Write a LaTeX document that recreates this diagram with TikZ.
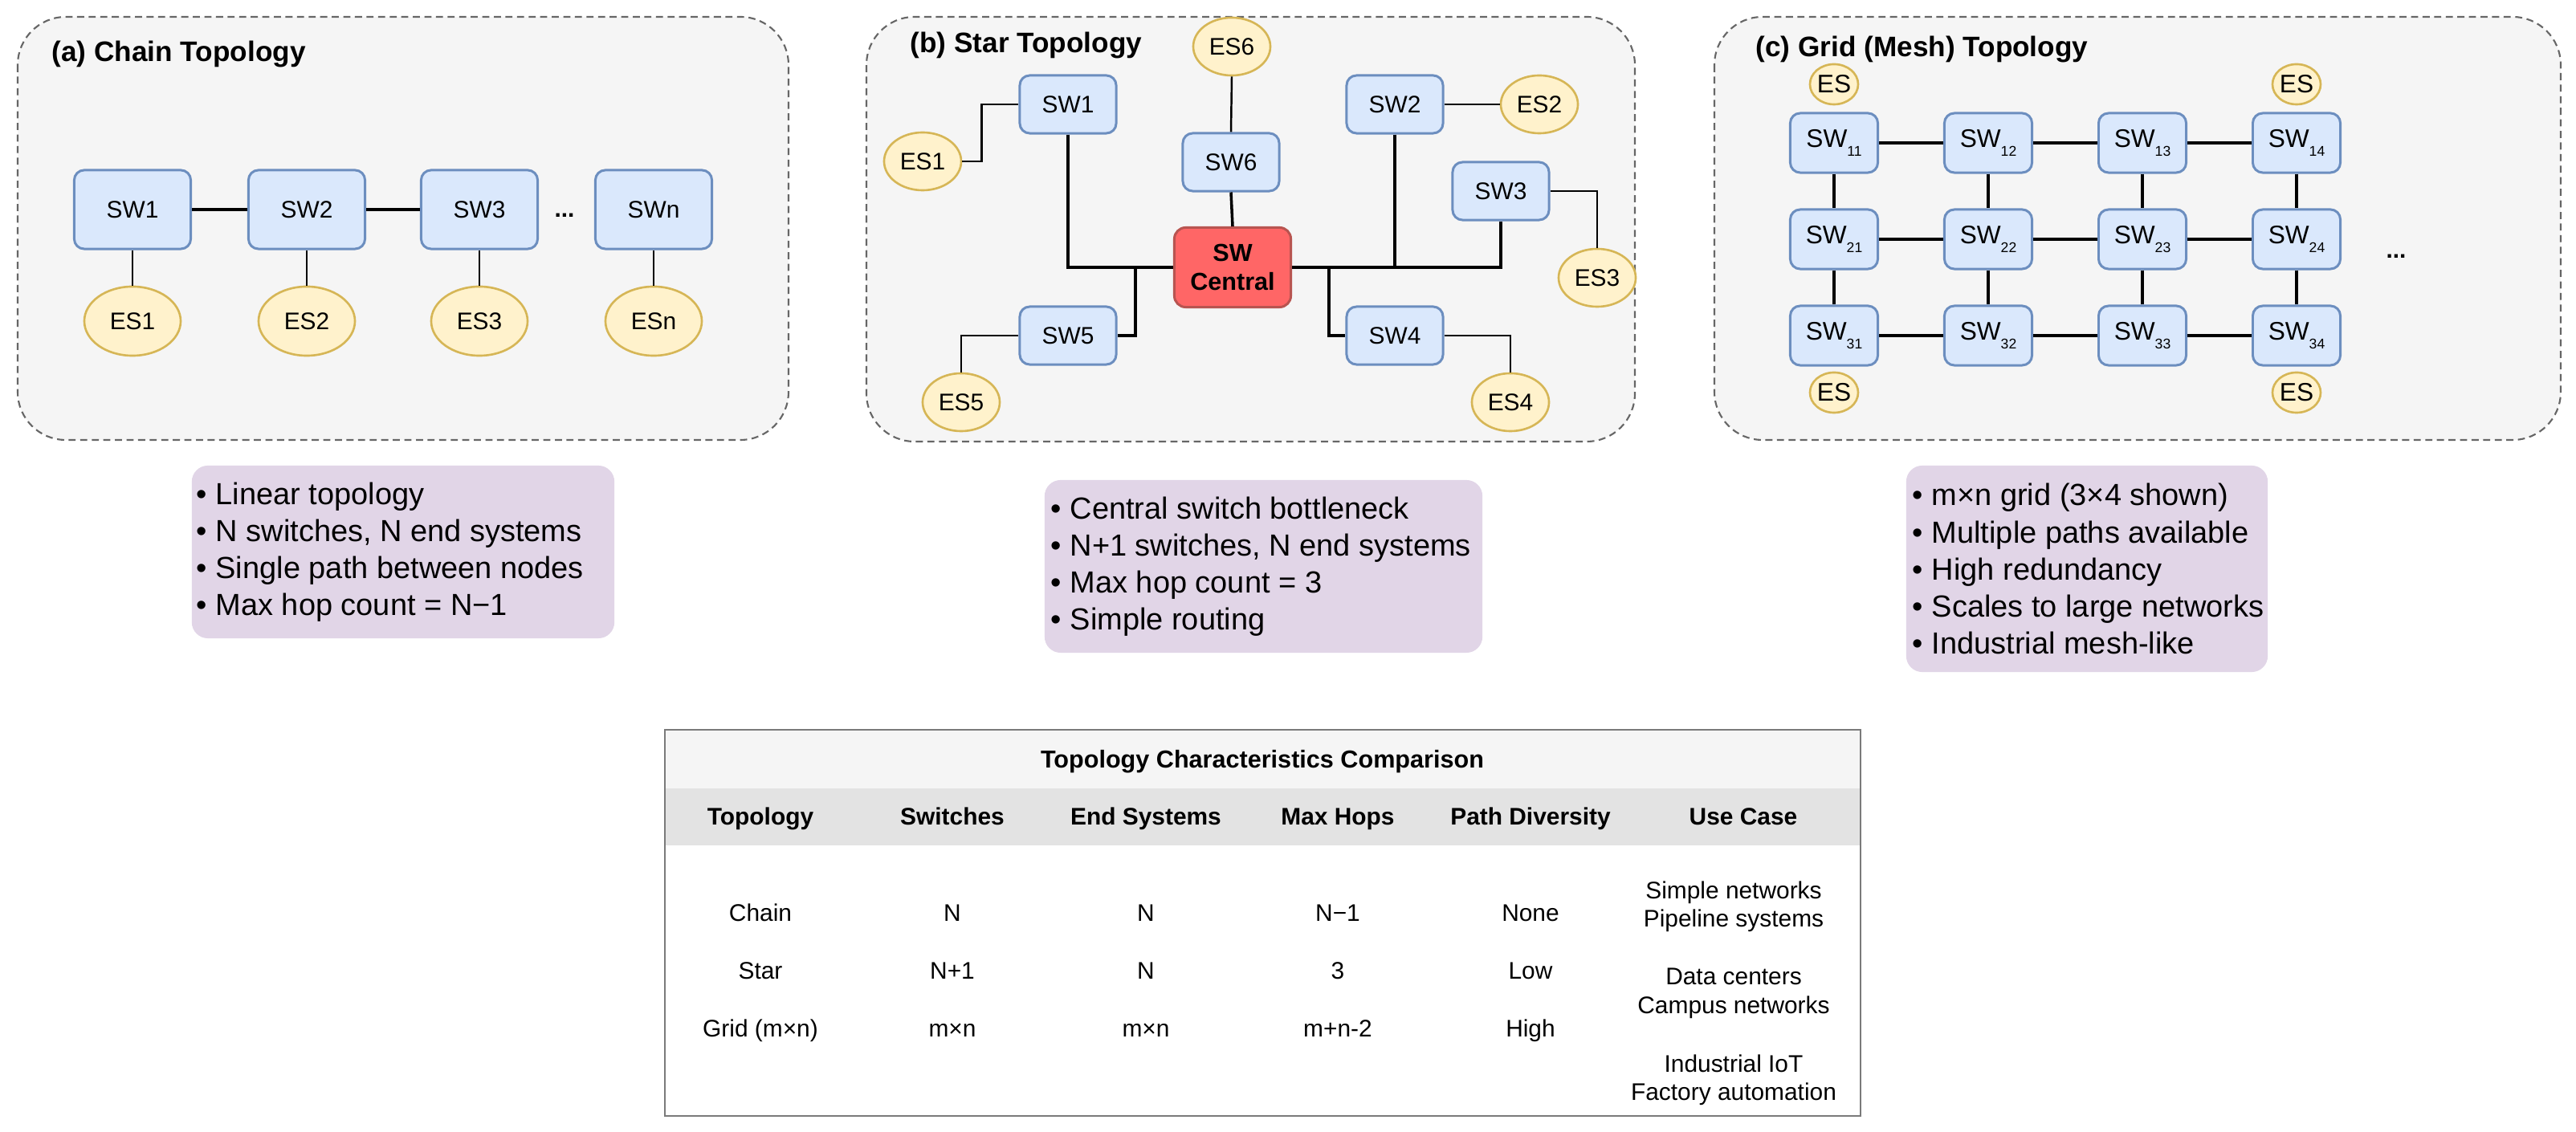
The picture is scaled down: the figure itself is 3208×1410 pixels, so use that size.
\documentclass[tikz,border=0pt]{standalone}
\usepackage{fontspec}
\setmainfont{Liberation Sans}
\usetikzlibrary{shapes.geometric}
\definecolor{panelfill}{HTML}{F5F5F5}
\definecolor{paneldraw}{HTML}{666666}
\definecolor{swfill}{HTML}{DAE8FC}
\definecolor{swdraw}{HTML}{6C8EBF}
\definecolor{esfill}{HTML}{FFF2CC}
\definecolor{esdraw}{HTML}{D6B656}
\definecolor{cfill}{HTML}{FF6666}
\definecolor{cdraw}{HTML}{B85450}
\definecolor{notefill}{HTML}{E1D5E7}
\definecolor{thead}{HTML}{E3E3E3}
\definecolor{ttitle}{HTML}{F5F5F5}
\definecolor{tborder}{HTML}{7A7A7A}
\newcommand{\fsz}[2]{\fontsize{#1}{#2}\selectfont}
\newcommand{\gsw}[1]{SW\raisebox{-3pt}{\fsz{5}{6}#1}}
\tikzset{
  panel/.style={draw=paneldraw, fill=panelfill, line width=0.6pt, dash pattern=on 2.5pt off 1.6pt, rounded corners=0.6cm},
  ptitle/.style={anchor=base west, inner sep=0pt, font=\fsz{10}{12}\bfseries},
  sw/.style={draw=swdraw, fill=swfill, line width=0.85pt, rounded corners=3.5pt, rectangle, inner sep=0pt, font=\fsz{8.5}{10}},
  es/.style={draw=esdraw, fill=esfill, line width=0.75pt, ellipse, inner sep=0pt, font=\fsz{8.5}{10}},
  central/.style={draw=cdraw, fill=cfill, line width=0.85pt, rounded corners=4pt, rectangle, inner sep=0pt, align=center, font=\fsz{8.7}{10.5}\bfseries, minimum width=1.45cm, minimum height=0.99cm},
  thickln/.style={line width=1pt, black},
  thinln/.style={line width=0.55pt, black},
  medln/.style={line width=0.7pt, black},
  notebox/.style={fill=notefill, rounded corners=0.2cm, rectangle, inner sep=0pt},
  notetext/.style={anchor=west, align=left, inner sep=0pt, font=\fsz{10.8}{13.1}},
  thdr/.style={anchor=base, inner sep=0pt, font=\fsz{8.5}{10}\bfseries},
  tcell/.style={anchor=base, inner sep=0pt, font=\fsz{8.5}{10}},
}
\begin{document}
\begin{tikzpicture}[x=0.01cm, y=-0.01cm]
\useasboundingbox (0,0) rectangle (3208,1410);

% ---------------- panels ----------------
\draw[panel] (22,21) rectangle (982,548);
\draw[panel] (1079,21) rectangle (2036,550);
\draw[panel] (2135,21) rectangle (3189,548);
\node[ptitle] (ta) at (64,77) {(a) Chain Topology};
\node[ptitle] (tb) at (1133,66) {(b) Star Topology};
\node[ptitle] (tc) at (2186,71) {(c) Grid (Mesh) Topology};

% ---------------- (a) chain ----------------
\tikzset{swa/.style={sw, minimum width=1.45cm, minimum height=0.98cm},
         esa/.style={es, minimum width=1.2cm, minimum height=0.86cm}}
\node[swa] (a1) at (165,261) {SW1};
\node[swa] (a2) at (382,261) {SW2};
\node[swa] (a3) at (597,261) {SW3};
\node[swa] (an) at (814,261) {SWn};
\node[anchor=base, inner sep=0pt, font=\fsz{8.5}{10}\bfseries] (adots) at (703,271) {...};
\node[esa] (ae1) at (165,400) {ES1};
\node[esa] (ae2) at (382,400) {ES2};
\node[esa] (ae3) at (597,400) {ES3};
\node[esa] (aen) at (814,400) {ESn};
\draw[thickln] (a1) -- (a2);
\draw[thickln] (a2) -- (a3);
\draw[thinln] (a1) -- (ae1);
\draw[thinln] (a2) -- (ae2);
\draw[thinln] (a3) -- (ae3);
\draw[thinln] (an) -- (aen);

% ---------------- (b) star ----------------
\tikzset{swb/.style={sw, minimum width=1.2cm, minimum height=0.72cm},
         esb/.style={es, minimum width=0.96cm, minimum height=0.72cm}}
\node[central] (c) at (1535,333) {SW\\Central};
\node[swb] (b1) at (1330,130) {SW1};
\node[swb] (b6) at (1533,202) {SW6};
\node[swb] (b2) at (1737,130) {SW2};
\node[swb] (b3) at (1869,238) {SW3};
\node[swb] (b5) at (1330,418) {SW5};
\node[swb] (b4) at (1737,418) {SW4};
\node[esb] (be6) at (1534,58) {ES6};
\node[esb] (be1) at (1149,201) {ES1};
\node[esb] (be2) at (1917,130) {ES2};
\node[esb] (be3) at (1989,346) {ES3};
\node[esb] (be5) at (1197,501) {ES5};
\node[esb] (be4) at (1881,501) {ES4};
\coordinate (bl) at (1414,333);
\coordinate (br) at (1655,333);
\draw[thickln] (b1.south) |- (c.west);
\draw[thickln] (bl) |- (b5.east);
\draw[thickln] (b6.south) -- (c.north);
\draw[thickln] (c.east) -| (b3.south);
\draw[thickln] (b2.south) -- (b2.south |- c.east);
\draw[thickln] (br) |- (b4.west);
\draw[medln] (be6.south) -- (b6.north);
\draw[medln] (be1.east) -- ++(24,0) |- (b1.west);
\draw[medln] (b2.east) -- (be2.west);
\draw[medln] (b3.east) -| (be3.north);
\draw[medln] (b4.east) -| (be4.north);
\draw[medln] (b5.west) -| (be5.north);

% ---------------- (c) grid ----------------
\tikzset{swc/.style={sw, minimum width=1.09cm, minimum height=0.74cm, font=\fsz{9}{10}},
         esc/.style={es, minimum width=0.6cm, minimum height=0.5cm, font=\fsz{9}{10}}}
\node[swc] (g11) at (2284,178) {\gsw{11}};
\node[swc] (g12) at (2476,178) {\gsw{12}};
\node[swc] (g13) at (2668,178) {\gsw{13}};
\node[swc] (g14) at (2860,178) {\gsw{14}};
\node[swc] (g21) at (2284,298) {\gsw{21}};
\node[swc] (g22) at (2476,298) {\gsw{22}};
\node[swc] (g23) at (2668,298) {\gsw{23}};
\node[swc] (g24) at (2860,298) {\gsw{24}};
\node[swc] (g31) at (2284,418) {\gsw{31}};
\node[swc] (g32) at (2476,418) {\gsw{32}};
\node[swc] (g33) at (2668,418) {\gsw{33}};
\node[swc] (g34) at (2860,418) {\gsw{34}};
\node[esc] (ge1) at (2284,105) {ES};
\node[esc] (ge2) at (2860,105) {ES};
\node[esc] (ge3) at (2284,489) {ES};
\node[esc] (ge4) at (2860,489) {ES};
\node[anchor=base, inner sep=0pt, font=\fsz{8.5}{10}\bfseries] (gdots) at (2984,322) {...};
\foreach \r in {1,2,3}{
  \draw[thickln] (g\r1) -- (g\r2);
  \draw[thickln] (g\r2) -- (g\r3);
  \draw[thickln] (g\r3) -- (g\r4);
}
\foreach \c in {1,2,3,4}{
  \draw[thickln] (g1\c) -- (g2\c);
  \draw[thickln] (g2\c) -- (g3\c);
}

% ---------------- notes ----------------
\node[notebox, minimum width=5.26cm, minimum height=2.15cm] (na) at (502,687.5) {};
\node[notetext] (nta) at ([xshift=0.06cm]na.west) {• Linear topology\\• N switches, N end systems\\• Single path between nodes\\• Max hop count = N−1};
\node[notebox, minimum width=5.45cm, minimum height=2.15cm] (nb) at (1573.5,705.5) {};
\node[notetext] (ntb) at ([xshift=0.08cm]nb.west) {• Central switch bottleneck\\• N+1 switches, N end systems\\• Max hop count = 3\\• Simple routing};
\node[notebox, minimum width=4.5cm, minimum height=2.57cm] (nc) at (2599,708.5) {};
\node[notetext] (ntc) at ([xshift=0.08cm]nc.west) {• m×n grid (3×4 shown)\\• Multiple paths available\\• High redundancy\\• Scales to large networks\\• Industrial mesh-like};

% ---------------- table ----------------
\fill[white] (828,909) rectangle (2317,1390);
\fill[ttitle] (828,909) rectangle (2317,982);
\fill[thead] (828,982) rectangle (2317,1053);
\draw[tborder, line width=0.8pt] (828,909) rectangle (2317,1390);
\node[thdr, font=\fsz{8.7}{10}\bfseries] (tt) at (1572,957) {Topology Characteristics Comparison};
\node[thdr] (h1) at (947,1028) {Topology};
\node[thdr] (h2) at (1186,1028) {Switches};
\node[thdr] (h3) at (1427,1028) {End Systems};
\node[thdr] (h4) at (1666,1028) {Max Hops};
\node[thdr] (h5) at (1906,1028) {Path Diversity};
\node[thdr] (h6) at (2171,1028) {Use Case};
\node[tcell] (r11) at (947,1148) {Chain};
\node[tcell] (r12) at (1186,1148) {N};
\node[tcell] (r13) at (1427,1148) {N};
\node[tcell] (r14) at (1666,1148) {N−1};
\node[tcell] (r15) at (1906,1148) {None};
\node[tcell] (r21) at (947,1220) {Star};
\node[tcell] (r22) at (1186,1220) {N+1};
\node[tcell] (r23) at (1427,1220) {N};
\node[tcell] (r24) at (1666,1220) {3};
\node[tcell] (r25) at (1906,1220) {Low};
\node[tcell] (r31) at (947,1292) {Grid (m×n)};
\node[tcell] (r32) at (1186,1292) {m×n};
\node[tcell] (r33) at (1427,1292) {m×n};
\node[tcell] (r34) at (1666,1292) {m+n-2};
\node[tcell] (r35) at (1906,1292) {High};
\node[tcell] (u1a) at (2159,1120) {Simple networks};
\node[tcell] (u1b) at (2159,1155) {Pipeline systems};
\node[tcell] (u2a) at (2159,1227) {Data centers};
\node[tcell] (u2b) at (2159,1263) {Campus networks};
\node[tcell] (u3a) at (2159,1335) {Industrial IoT};
\node[tcell] (u3b) at (2159,1370) {Factory automation};
\end{tikzpicture}
\end{document}
